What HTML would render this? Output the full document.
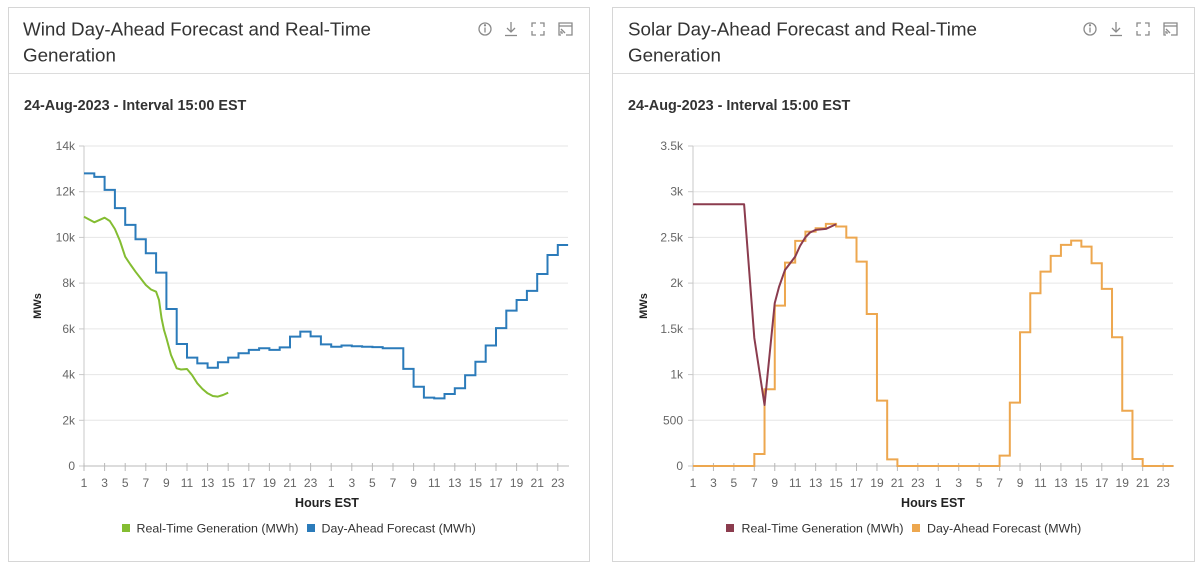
<!DOCTYPE html>
<html><head><meta charset="utf-8"><style>
html,body{margin:0;padding:0;background:#fff;}
svg{display:block;font-family:"Liberation Sans",Arial,sans-serif;}
.t{font-size:18.8px;fill:#333;}
.st{font-size:14.4px;font-weight:bold;fill:#333;}
.yl{font-size:12px;fill:#666;text-anchor:end;}
.xl{font-size:12px;fill:#666;text-anchor:middle;}
.ax{font-size:12.5px;font-weight:bold;fill:#222;text-anchor:middle;}
.mw{font-size:11px;font-weight:bold;fill:#222;text-anchor:middle;}
.lg{font-size:12.4px;fill:#333;}
.grid line{stroke:#e6e6e6;stroke-width:1;}
.ic{stroke:#8a8a8a;stroke-width:1.3;fill:none;}
</style></head><body>
<svg width="1200" height="569" viewBox="0 0 1200 569" xmlns="http://www.w3.org/2000/svg">
<!-- panels -->
<rect x="8.5" y="7.5" width="581" height="554" fill="#fff" stroke="#d6d6d6"/>
<rect x="612.5" y="7.5" width="582" height="554" fill="#fff" stroke="#d6d6d6"/>
<line x1="9" y1="73.5" x2="589" y2="73.5" stroke="#dcdcdc"/>
<line x1="613" y1="73.5" x2="1194" y2="73.5" stroke="#dcdcdc"/>

<!-- titles -->
<text class="t" x="23" y="35.5">Wind Day-Ahead Forecast and Real-Time</text>
<text class="t" x="23" y="61.5">Generation</text>
<text class="t" x="628" y="35.5">Solar Day-Ahead Forecast and Real-Time</text>
<text class="t" x="628" y="61.5">Generation</text>
<text class="st" x="24" y="110">24-Aug-2023 - Interval 15:00 EST</text>
<text class="st" x="628" y="110">24-Aug-2023 - Interval 15:00 EST</text>

<!-- icons left -->
<g class="ic">
<circle cx="485" cy="29" r="6"/><line x1="485" y1="27.5" x2="485" y2="32.5"/><circle cx="485" cy="25.3" r="0.5" fill="#8a8a8a"/>
<line x1="511" y1="22" x2="511" y2="32"/><polyline points="507,28 511,32 515,28"/><line x1="505" y1="35.5" x2="517" y2="35.5"/>
<polyline points="532,27 532,23 536,23"/><polyline points="540,23 544,23 544,27"/><polyline points="544,31 544,35 540,35"/><polyline points="536,35 532,35 532,31"/>
<polyline points="561,35 559,35 559,23 572,23 572,35 566,35"/><line x1="559" y1="26" x2="572" y2="26"/><line x1="561" y1="29" x2="565" y2="33"/><polyline points="561,31 561,33 563,33"/>
</g>
<!-- icons right -->
<g class="ic" transform="translate(605,0)">
<circle cx="485" cy="29" r="6"/><line x1="485" y1="27.5" x2="485" y2="32.5"/><circle cx="485" cy="25.3" r="0.5" fill="#8a8a8a"/>
<line x1="511" y1="22" x2="511" y2="32"/><polyline points="507,28 511,32 515,28"/><line x1="505" y1="35.5" x2="517" y2="35.5"/>
<polyline points="532,27 532,23 536,23"/><polyline points="540,23 544,23 544,27"/><polyline points="544,31 544,35 540,35"/><polyline points="536,35 532,35 532,31"/>
<polyline points="561,35 559,35 559,23 572,23 572,35 566,35"/><line x1="559" y1="26" x2="572" y2="26"/><line x1="561" y1="29" x2="565" y2="33"/><polyline points="561,31 561,33 563,33"/>
</g>

<!-- ================= LEFT CHART ================= -->
<g class="grid">
<line x1="84" y1="146" x2="568" y2="146"/>
<line x1="84" y1="191.7" x2="568" y2="191.7"/>
<line x1="84" y1="237.4" x2="568" y2="237.4"/>
<line x1="84" y1="283.1" x2="568" y2="283.1"/>
<line x1="84" y1="328.9" x2="568" y2="328.9"/>
<line x1="84" y1="374.6" x2="568" y2="374.6"/>
<line x1="84" y1="420.3" x2="568" y2="420.3"/>
</g>
<line x1="84" y1="146" x2="84" y2="466" stroke="#c8c8c8"/>
<line x1="84" y1="466" x2="569" y2="466" stroke="#b8b8b8"/>
<g stroke="#c8c8c8">
<line x1="79" y1="146" x2="84" y2="146"/><line x1="79" y1="191.7" x2="84" y2="191.7"/><line x1="79" y1="237.4" x2="84" y2="237.4"/><line x1="79" y1="283.1" x2="84" y2="283.1"/><line x1="79" y1="328.9" x2="84" y2="328.9"/><line x1="79" y1="374.6" x2="84" y2="374.6"/><line x1="79" y1="420.3" x2="84" y2="420.3"/><line x1="79" y1="466" x2="84" y2="466"/>
</g>
<g stroke="#b8b8b8">
<line x1="84" y1="463" x2="84" y2="471"/><line x1="104.6" y1="463" x2="104.6" y2="471"/><line x1="125.2" y1="463" x2="125.2" y2="471"/><line x1="145.8" y1="463" x2="145.8" y2="471"/><line x1="166.4" y1="463" x2="166.4" y2="471"/><line x1="187" y1="463" x2="187" y2="471"/><line x1="207.6" y1="463" x2="207.6" y2="471"/><line x1="228.2" y1="463" x2="228.2" y2="471"/><line x1="248.8" y1="463" x2="248.8" y2="471"/><line x1="269.4" y1="463" x2="269.4" y2="471"/><line x1="290" y1="463" x2="290" y2="471"/><line x1="310.6" y1="463" x2="310.6" y2="471"/><line x1="331.2" y1="463" x2="331.2" y2="471"/><line x1="351.8" y1="463" x2="351.8" y2="471"/><line x1="372.4" y1="463" x2="372.4" y2="471"/><line x1="393" y1="463" x2="393" y2="471"/><line x1="413.6" y1="463" x2="413.6" y2="471"/><line x1="434.2" y1="463" x2="434.2" y2="471"/><line x1="454.8" y1="463" x2="454.8" y2="471"/><line x1="475.4" y1="463" x2="475.4" y2="471"/><line x1="496" y1="463" x2="496" y2="471"/><line x1="516.6" y1="463" x2="516.6" y2="471"/><line x1="537.2" y1="463" x2="537.2" y2="471"/><line x1="557.8" y1="463" x2="557.8" y2="471"/>
</g>
<text class="yl" x="75" y="150">14k</text>
<text class="yl" x="75" y="195.7">12k</text>
<text class="yl" x="75" y="241.4">10k</text>
<text class="yl" x="75" y="287.1">8k</text>
<text class="yl" x="75" y="332.9">6k</text>
<text class="yl" x="75" y="378.6">4k</text>
<text class="yl" x="75" y="424.3">2k</text>
<text class="yl" x="75" y="470">0</text>
<g class="xl">
<text x="84" y="487">1</text><text x="104.6" y="487">3</text><text x="125.2" y="487">5</text><text x="145.8" y="487">7</text><text x="166.4" y="487">9</text><text x="187" y="487">11</text><text x="207.6" y="487">13</text><text x="228.2" y="487">15</text><text x="248.8" y="487">17</text><text x="269.4" y="487">19</text><text x="290" y="487">21</text><text x="310.6" y="487">23</text><text x="331.2" y="487">1</text><text x="351.8" y="487">3</text><text x="372.4" y="487">5</text><text x="393" y="487">7</text><text x="413.6" y="487">9</text><text x="434.2" y="487">11</text><text x="454.8" y="487">13</text><text x="475.4" y="487">15</text><text x="496" y="487">17</text><text x="516.6" y="487">19</text><text x="537.2" y="487">21</text><text x="557.8" y="487">23</text>
</g>
<text class="ax" x="327" y="507">Hours EST</text>
<text class="mw" transform="translate(41,306) rotate(-90)">MWs</text>

<path d="M84,173.43 H94.3 V176.86 H104.6 V189.89 H114.9 V208.17 H125.2 V224.86 H135.5 V239.26 H145.8 V253.2 H156.1 V272.63 H166.4 V308.97 H176.7 V343.94 H187 V357.66 H197.3 V363.37 H207.6 V367.71 H217.9 V362.23 H228.2 V357.66 H238.5 V353.31 H248.8 V349.89 H259.1 V348.29 H269.4 V349.89 H279.7 V347.37 H290 V336.63 H300.3 V331.6 H310.6 V336.4 H320.9 V344.4 H331.2 V346.69 H341.5 V345.54 H351.8 V346.23 H362.1 V346.69 H372.4 V347.14 H382.7 V348.29 H393 V348.29 H403.3 V368.86 H413.6 V386.69 H423.9 V397.66 H434.2 V398.34 H444.5 V394 H454.8 V388.29 H465.1 V375.26 H475.4 V361.77 H485.7 V345.54 H496 V328.17 H506.3 V310.57 H516.6 V300.06 H526.9 V290.91 H537.2 V274 H547.5 V255.03 H557.8 V244.97 H568.1" fill="none" stroke="#2b7bba" stroke-width="2"/>
<polyline points="84,216.7 94.3,222.3 104.6,217.7 109.8,221 114.9,229 120,241 125.2,256.7 130.4,264.5 135.5,271.7 145.8,285 151,289.5 156.1,291.7 159,300 161.5,318 164,330 166.4,338 171,355 176.7,368.3 181,369.5 187,369 192,375 197.3,383.3 202.5,389 207.6,393.3 212.8,396 217.9,396.6 223,395 228.2,392.7" fill="none" stroke="#84bd32" stroke-width="2" stroke-linejoin="round"/>

<rect x="122" y="524" width="8" height="8" fill="#84bd32"/>
<text class="lg" x="136.5" y="532.5">Real-Time Generation (MWh)</text>
<rect x="307" y="524" width="8" height="8" fill="#2b7bba"/>
<text class="lg" x="321.5" y="532.5">Day-Ahead Forecast (MWh)</text>

<!-- ================= RIGHT CHART ================= -->
<g class="grid">
<line x1="693" y1="146" x2="1173" y2="146"/>
<line x1="693" y1="191.7" x2="1173" y2="191.7"/>
<line x1="693" y1="237.4" x2="1173" y2="237.4"/>
<line x1="693" y1="283.1" x2="1173" y2="283.1"/>
<line x1="693" y1="328.9" x2="1173" y2="328.9"/>
<line x1="693" y1="374.6" x2="1173" y2="374.6"/>
<line x1="693" y1="420.3" x2="1173" y2="420.3"/>
</g>
<line x1="693" y1="146" x2="693" y2="466" stroke="#c8c8c8"/>
<line x1="693" y1="466" x2="1174" y2="466" stroke="#b8b8b8"/>
<g stroke="#c8c8c8">
<line x1="688" y1="146" x2="693" y2="146"/><line x1="688" y1="191.7" x2="693" y2="191.7"/><line x1="688" y1="237.4" x2="693" y2="237.4"/><line x1="688" y1="283.1" x2="693" y2="283.1"/><line x1="688" y1="328.9" x2="693" y2="328.9"/><line x1="688" y1="374.6" x2="693" y2="374.6"/><line x1="688" y1="420.3" x2="693" y2="420.3"/><line x1="688" y1="466" x2="693" y2="466"/>
</g>
<g stroke="#b8b8b8">
<line x1="693" y1="463" x2="693" y2="471"/><line x1="713.44" y1="463" x2="713.44" y2="471"/><line x1="733.88" y1="463" x2="733.88" y2="471"/><line x1="754.32" y1="463" x2="754.32" y2="471"/><line x1="774.76" y1="463" x2="774.76" y2="471"/><line x1="795.2" y1="463" x2="795.2" y2="471"/><line x1="815.64" y1="463" x2="815.64" y2="471"/><line x1="836.08" y1="463" x2="836.08" y2="471"/><line x1="856.52" y1="463" x2="856.52" y2="471"/><line x1="876.96" y1="463" x2="876.96" y2="471"/><line x1="897.4" y1="463" x2="897.4" y2="471"/><line x1="917.84" y1="463" x2="917.84" y2="471"/><line x1="938.28" y1="463" x2="938.28" y2="471"/><line x1="958.72" y1="463" x2="958.72" y2="471"/><line x1="979.16" y1="463" x2="979.16" y2="471"/><line x1="999.6" y1="463" x2="999.6" y2="471"/><line x1="1020.04" y1="463" x2="1020.04" y2="471"/><line x1="1040.48" y1="463" x2="1040.48" y2="471"/><line x1="1060.92" y1="463" x2="1060.92" y2="471"/><line x1="1081.36" y1="463" x2="1081.36" y2="471"/><line x1="1101.8" y1="463" x2="1101.8" y2="471"/><line x1="1122.24" y1="463" x2="1122.24" y2="471"/><line x1="1142.68" y1="463" x2="1142.68" y2="471"/><line x1="1163.12" y1="463" x2="1163.12" y2="471"/>
</g>
<text class="yl" x="683" y="150">3.5k</text>
<text class="yl" x="683" y="195.7">3k</text>
<text class="yl" x="683" y="241.4">2.5k</text>
<text class="yl" x="683" y="287.1">2k</text>
<text class="yl" x="683" y="332.9">1.5k</text>
<text class="yl" x="683" y="378.6">1k</text>
<text class="yl" x="683" y="424.3">500</text>
<text class="yl" x="683" y="470">0</text>
<g class="xl">
<text x="693" y="487">1</text><text x="713.44" y="487">3</text><text x="733.88" y="487">5</text><text x="754.32" y="487">7</text><text x="774.76" y="487">9</text><text x="795.2" y="487">11</text><text x="815.64" y="487">13</text><text x="836.08" y="487">15</text><text x="856.52" y="487">17</text><text x="876.96" y="487">19</text><text x="897.4" y="487">21</text><text x="917.84" y="487">23</text><text x="938.28" y="487">1</text><text x="958.72" y="487">3</text><text x="979.16" y="487">5</text><text x="999.6" y="487">7</text><text x="1020.04" y="487">9</text><text x="1040.48" y="487">11</text><text x="1060.92" y="487">13</text><text x="1081.36" y="487">15</text><text x="1101.8" y="487">17</text><text x="1122.24" y="487">19</text><text x="1142.68" y="487">21</text><text x="1163.12" y="487">23</text>
</g>
<text class="ax" x="933" y="507">Hours EST</text>
<text class="mw" transform="translate(647,306) rotate(-90)">MWs</text>

<path d="M693,466 H754.32 V454.02 H764.54 V389.29 H774.76 V305.63 H784.98 V262.57 H795.2 V240.91 H805.42 V231.58 H815.64 V228.19 H825.86 V223.9 H836.08 V226.55 H846.3 V237.61 H856.52 V261.57 H866.74 V313.95 H876.96 V400.63 H887.18 V459.33 H897.4 V466 H999.6 V455.67 H1009.82 V402.64 H1020.04 V332.24 H1030.26 V293.2 H1040.48 V271.63 H1050.7 V255.9 H1060.92 V244.93 H1071.14 V240.63 H1081.36 V246.66 H1091.58 V263.21 H1101.8 V288.9 H1112.02 V337.27 H1122.24 V410.69 H1132.46 V458.96 H1142.68 V466 H1173.34" fill="none" stroke="#eda74f" stroke-width="2"/>
<polyline points="693,204.24 744.1,204.24 754.32,338 764.54,405.02 774.76,302.98 779,287 784.98,269.98 795.2,256.63 800,246 805.42,237.25 810,232.5 815.64,229.93 825.86,228.93 836.08,224.27" fill="none" stroke="#8b3c4e" stroke-width="2" stroke-linejoin="round"/>

<rect x="726" y="524" width="8" height="8" fill="#8b3c4e"/>
<text class="lg" x="741.5" y="532.5">Real-Time Generation (MWh)</text>
<rect x="912" y="524" width="8" height="8" fill="#eda74f"/>
<text class="lg" x="927" y="532.5">Day-Ahead Forecast (MWh)</text>
</svg>
</body></html>
